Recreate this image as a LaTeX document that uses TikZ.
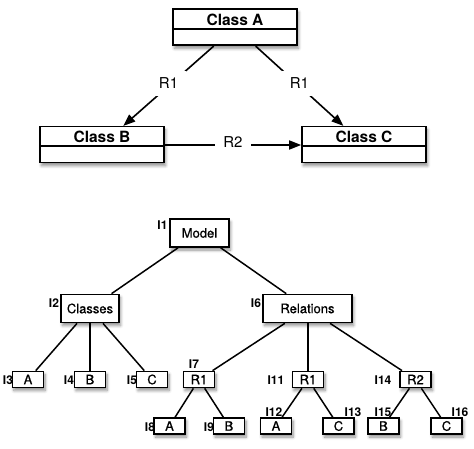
\documentclass[tikz,border=0pt]{standalone}
\usepackage{fontspec}
\setmainfont{TeX Gyre Heros}
\newfontfamily\treefont[FakeBold=0.6]{TeX Gyre Heros}
\usetikzlibrary{shadows.blur,arrows.meta}
\begin{document}
\begin{tikzpicture}[x=1pt,y=-1pt,
  shad/.style={blur shadow={shadow xshift=1.5pt, shadow yshift=-3pt, shadow blur steps=6, shadow blur radius=3pt, shadow opacity=45}},
  classbox/.style={draw, line width=1.6pt, fill=white, shad, minimum width=124pt, minimum height=36pt,
    inner xsep=0pt, inner ysep=0pt, text height=16pt, text depth=20pt,
    font=\fontsize{15.5}{16}\selectfont\bfseries,
    path picture={\draw[line width=1.5pt] ([yshift=-19.5pt]path picture bounding box.north west) -- ([yshift=-19.5pt]path picture bounding box.north east);}},
  rel/.style={line width=1.6pt, -{Triangle[length=12pt,width=9pt]}},
  rlab/.style={midway, fill=white, inner xsep=8pt, inner ysep=7pt, yshift=2.5pt, font=\fontsize{15}{16}\selectfont},
  tbox/.style={draw, line width=1.7pt, fill=white, shad, inner sep=0pt, font=\treefont\fontsize{13}{14}\selectfont},
  big/.style={tbox, minimum height=28pt},
  leaf/.style={tbox, minimum width=31pt, minimum height=16pt},
  lab/.style={inner sep=0pt, font=\fontsize{12}{12}\selectfont\bfseries},
  tl/.style={line width=1.5pt}
]
\useasboundingbox (0,0) rectangle (474,449);

% UML part
\node[classbox] (CA) at (235,27.3) {Class A};
\node[classbox] (CB) at (102,144.7) {Class B};
\node[classbox] (CC) at (364,144.7) {Class C};
\draw[rel] (CA) -- node[rlab] {R1} (CB);
\draw[rel] (CA) -- node[rlab] {R1} (CC);
\draw[rel] (CB.east |- 0,145) -- node[rlab] {R2} (CC.west |- 0,145);

% Tree part
\node[big, minimum width=59pt] (model) at (199.5,233) {Model};
\node[big, minimum width=58pt] (classes) at (90,308.5) {Classes};
\node[big, minimum width=89pt] (relations) at (307.5,308.5) {Relations};

\node[leaf] (a3) at (28,379.5) {A};
\node[leaf] (b4) at (90,379.5) {B};
\node[leaf] (c5) at (152,379.5) {C};
\node[leaf] (r7) at (199,379.5) {R1};
\node[leaf] (r11) at (308,379.5) {R1};
\node[leaf] (r14) at (415.5,379.5) {R2};

\node[leaf] (a8) at (169.5,426) {A};
\node[leaf] (b9) at (229,426) {B};
\node[leaf] (a12) at (276,426) {A};
\node[leaf] (c13) at (338.5,426) {C};
\node[leaf] (b15) at (383.5,426) {B};
\node[leaf] (c16) at (446.5,426) {C};

\draw[tl] (model) -- (classes);
\draw[tl] (model) -- (relations);
\draw[tl] (classes) -- (a3);
\draw[tl] (classes) -- (b4);
\draw[tl] (classes) -- (c5);
\draw[tl] (relations) -- (r7);
\draw[tl] (relations.south -| r11) -- (r11);
\draw[tl] (relations) -- (r14);
\draw[tl] (r7) -- (a8);
\draw[tl] (r7) -- (b9);
\draw[tl] (r11) -- (a12);
\draw[tl] (r11) -- (c13);
\draw[tl] (r14) -- (b15);
\draw[tl] (r14) -- (c16);

% index labels
\node[lab] (l1) at (162.5,225) {I1};
\node[lab] (l2) at (54,303) {I2};
\node[lab] (l6) at (256,303) {I6};
\node[lab] (l3) at (8,380) {I3};
\node[lab] (l4) at (69,380) {I4};
\node[lab] (l5) at (132,380) {I5};
\node[lab] (l7) at (194,364) {I7};
\node[lab] (l11) at (276,380) {I11};
\node[lab] (l14) at (383,380) {I14};
\node[lab] (l8) at (150,427) {I8};
\node[lab] (l9) at (209,427) {I9};
\node[lab] (l12) at (274,412) {I12};
\node[lab] (l13) at (353,412) {I13};
\node[lab] (l15) at (383,412) {I15};
\node[lab] (l16) at (460,412) {I16};
\end{tikzpicture}
\end{document}
